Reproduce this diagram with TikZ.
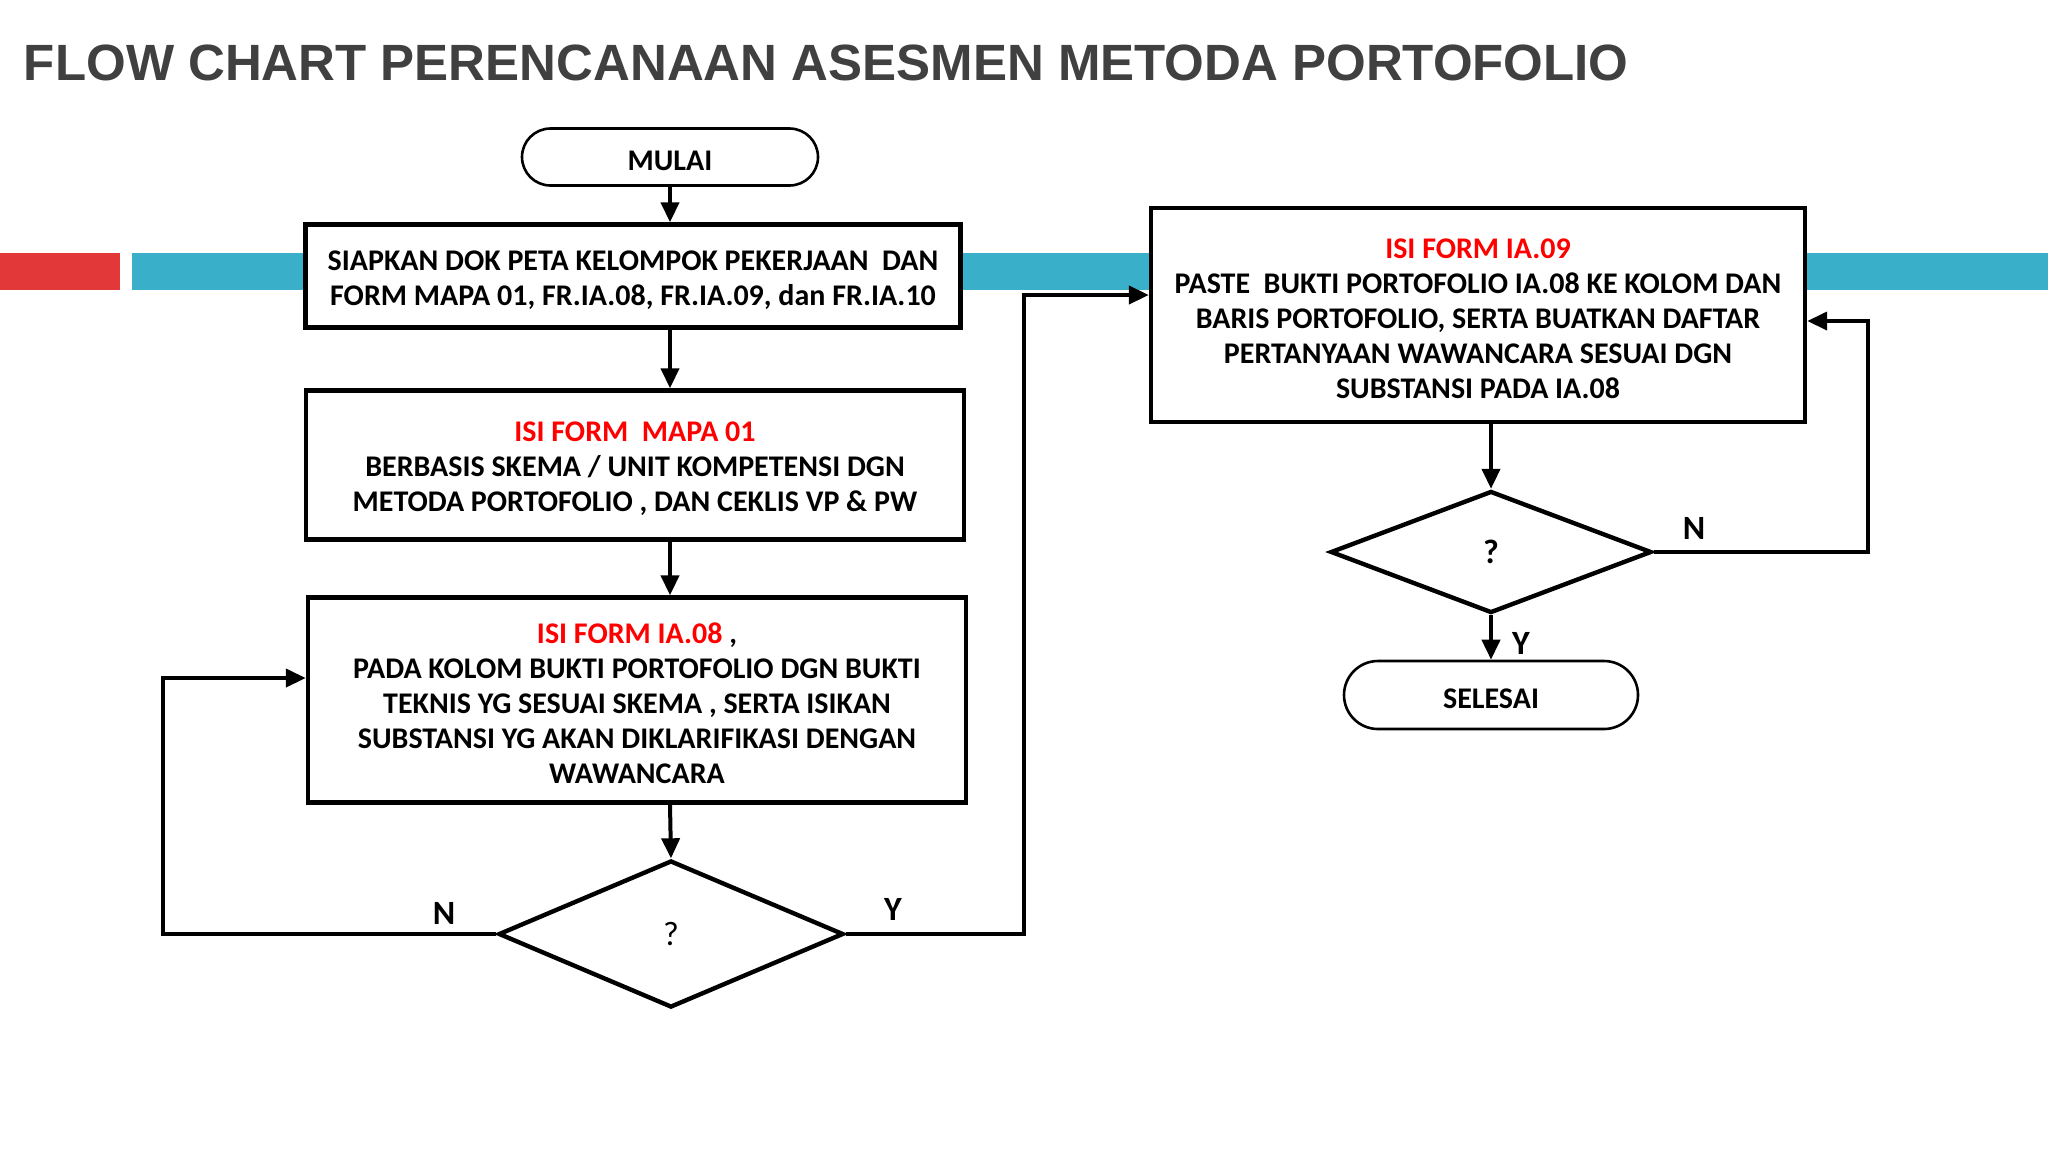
\documentclass[tikz,border=0pt]{standalone}
\usepackage{fontspec}
\setmainfont{Carlito}
\newfontfamily\titlefont{Liberation Sans}
\usetikzlibrary{shapes.geometric,shapes.misc,arrows.meta}
\definecolor{barblue}{RGB}{58,175,201}
\definecolor{barred}{RGB}{226,56,58}
\definecolor{titlegray}{RGB}{64,64,64}
\newcommand{\firstline}{\rule{0pt}{13.7pt}}

\begin{document}
\begin{tikzpicture}[x=0.5pt,y=-0.5pt,line width=2pt,>={Triangle[length=10pt,width=9pt]},font=\fontsize{15}{17.5}\selectfont\bfseries]
\tikzstyle{terminal}=[rounded rectangle,draw=black,line width=1.3pt,fill=white,inner sep=0pt,execute at begin node={\firstline}]
\tikzstyle{process}=[rectangle,draw=black,line width=2.2pt,fill=white,align=center,inner sep=0pt]
\tikzstyle{decision}=[diamond,draw=black,line width=2.2pt,fill=white,inner sep=0pt,font=\fontsize{17}{17}\selectfont\bfseries]
\tikzstyle{branch}=[font=\fontsize{17}{17}\selectfont\bfseries,inner sep=0pt]
\useasboundingbox (0,0) rectangle (2048,1152);
% bars behind the boxes
\fill[barred] (0,253) rectangle (120,290);
\fill[barblue] (132,253) rectangle (2048,290);
\node[anchor=west,inner sep=0pt,text=titlegray,font=\titlefont\fontsize{25.5}{26}\selectfont\bfseries] (title) at (22,63) {FLOW CHART PERENCANAAN ASESMEN METODA PORTOFOLIO};
% left column
\node[terminal,minimum width=148pt,minimum height=28.5pt] (mulai) at (670,157) {MULAI};
\node[process,minimum width=327.5pt,minimum height=51.5pt] (box1) at (633,276) {\firstline SIAPKAN DOK PETA KELOMPOK PEKERJAAN~ DAN\\FORM MAPA 01, FR.IA.08, FR.IA.09, dan FR.IA.10};
\node[process,minimum width=329pt,minimum height=74.5pt] (box2) at (635,465) {\firstline\textcolor{red}{ISI FORM~ MAPA 01}\\BERBASIS SKEMA / UNIT KOMPETENSI DGN\\METODA PORTOFOLIO , DAN CEKLIS VP \& PW};
\node[process,minimum width=329pt,minimum height=102.5pt] (box3) at (637,700) {\firstline\textcolor{red}{ISI FORM IA.08} ,\\PADA KOLOM BUKTI PORTOFOLIO DGN BUKTI\\TEKNIS YG SESUAI SKEMA , SERTA ISIKAN\\SUBSTANSI YG AKAN DIKLARIFIKASI DENGAN\\WAWANCARA};
\node[decision,minimum width=172.5pt,minimum height=73.5pt] (dec1) at (671,934) {\mdseries ?};
% right column
\node[process,minimum width=327pt,minimum height=107pt] (box4) at (1478,315) {\firstline\textcolor{red}{ISI FORM IA.09}\\PASTE~ BUKTI PORTOFOLIO IA.08 KE KOLOM DAN\\BARIS PORTOFOLIO, SERTA BUATKAN DAFTAR\\PERTANYAAN WAWANCARA SESUAI DGN\\SUBSTANSI PADA IA.08};
\node[decision,minimum width=160.5pt,minimum height=61pt] (dec2) at (1491,552) {?};
\node[terminal,minimum width=147pt,minimum height=34pt] (selesai) at (1491,695) {SELESAI};
\coordinate (nloop) at (163,678);
\coordinate (yloop) at (1024,295);
\coordinate (nback) at (1868,321);
\node[branch] (n1) at (444,913) {N};
\node[branch] (y1) at (893,909) {Y};
\node[branch] (n2) at (1694,528) {N};
\node[branch] (y2) at (1521,643) {Y};
\draw[->] (mulai.south) -- (mulai |- box1.north);
\draw[->] (mulai |- box1.south) -- (mulai |- box2.north);
\draw[->] (mulai |- box2.south) -- (mulai |- box3.north);
\draw[->] (mulai |- box3.south) -- (dec1.north);
\draw[->] (dec1.west) -| (nloop) -- (nloop -| box3.west);
\draw[->] (dec1.east) -| (yloop) -- (yloop -| box4.west);
\draw[->] (box4.south -| dec2) -- (dec2.north);
\draw[->] (dec2.east) -| (nback) -- (nback -| box4.east);
\draw[->] (dec2.south) -- (selesai.north);
\end{tikzpicture}
\end{document}
